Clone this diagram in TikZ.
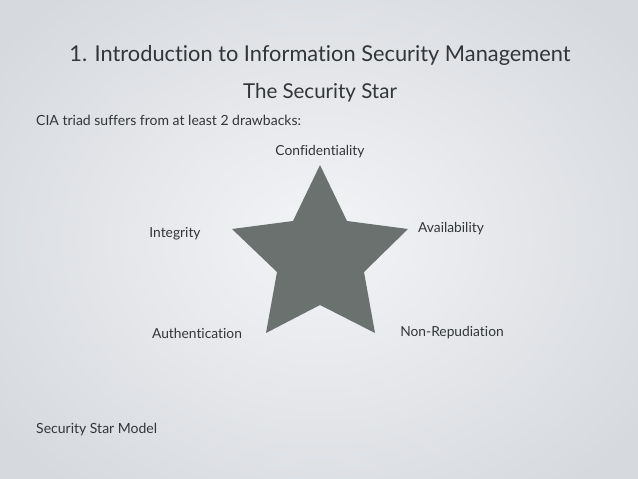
\documentclass[tikz,border=0pt]{standalone}
\usepackage{fontspec}
\setmainfont[Ligatures=NoCommon]{Lato}
\definecolor{txt}{HTML}{333638}
\definecolor{starfill}{HTML}{6A716E}
\definecolor{bgin}{HTML}{F3F4F6}
\definecolor{bgout}{HTML}{D6D9DE}
\begin{document}
\begin{tikzpicture}[x=1pt,y=-1pt,
  lbl/.style={text=txt,inner sep=0pt,font=\fontsize{13.8}{16}\selectfont},
  bodytxt/.style={text=txt,inner sep=0pt,anchor=west,font=\fontsize{14}{17}\selectfont}]
\useasboundingbox (0,0) rectangle (638,479);
\shade[inner color=bgin,outer color=bgout] (-80,-80) rectangle (718,559);
\node[text=txt,inner sep=0pt,font=\fontsize{21.8}{26}\selectfont] (title) at (320,55) {1. Introduction to Information Security Management};
\node[text=txt,inner sep=0pt,font=\fontsize{20.5}{24}\selectfont] (sub) at (320,93) {The Security Star};
\node[bodytxt] (cia) at (36,120) {CIA triad suffers from at least 2 drawbacks:};
\node[bodytxt] (model) at (36,430) {Security Star Model};
\fill[starfill] (320,165) -- (347,221) -- (408,229) -- (364,272) -- (375,333) -- (320,305) -- (266,333) -- (277,272) -- (232,229) -- (293,221) -- cycle;
\node[lbl] (conf) at (320,152) {Confidentiality};
\node[lbl] (integ) at (175,234) {Integrity};
\node[lbl] (avail) at (451,229) {Availability};
\node[lbl] (auth) at (197,333) {Authentication};
\node[lbl] (nonrep) at (452,333) {Non-Repudiation};
\end{tikzpicture}
\end{document}
